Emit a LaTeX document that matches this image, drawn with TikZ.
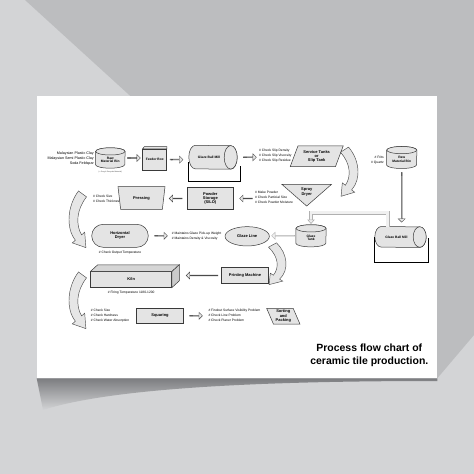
\documentclass[tikz,border=0pt]{standalone}
\usepackage{fontspec}
\setmainfont{Liberation Sans}
\usetikzlibrary{positioning, shapes.geometric, shapes.arrows, shapes.misc, calc, arrows.meta}
\usetikzlibrary{backgrounds}

\definecolor{bglight}{HTML}{D3D4D6}
\definecolor{bgdark}{HTML}{BCBDBF}
\definecolor{shadowc}{HTML}{7C7D80}
\definecolor{boxfill}{HTML}{E4E4E4}
\definecolor{boxline}{HTML}{3A3A3A}
\definecolor{arrowfill}{HTML}{E6E6E6}
\definecolor{arrowline}{HTML}{4A4A4A}
\definecolor{pipeline}{HTML}{B0B0B0}
\definecolor{pipefill}{HTML}{F0F0F0}

% drum lying on its side (node, end radius x, end radius y)
\newcommand\millbody[3]{%
  \draw[shp] ([xshift=#2]#1.north west) arc[start angle=90, end angle=270, x radius=#2, y radius=#3]
    -- ([xshift=-#2]#1.south east) arc[start angle=-90, end angle=90, x radius=#2, y radius=#3] -- cycle;
  \draw[shp] ([xshift=-#2]#1.east) ellipse[x radius=#2, y radius=#3];
}
% standing bin (node, half width, lid radius)
\newcommand\storebin[3]{%
  \draw[shp] ([yshift=-#3]#1.north west) -- ([yshift=#3]#1.south west)
    arc[start angle=180, end angle=360, x radius=#2, y radius=#3]
    -- ([yshift=-#3]#1.north east)
    arc[start angle=0, end angle=180, x radius=#2, y radius=#3] -- cycle;
  \draw[shp] ([yshift=-#3]#1.north) ellipse[x radius=#2, y radius=#3];
}

\tikzset{
  shp/.style={draw=boxline, fill=boxfill, line width=0.5bp},
  lbl/.style={font=\fontsize{4}{4.3}\selectfont\bfseries, align=center},
  slbl/.style={font=\fontsize{3.3}{3.7}\selectfont\bfseries, align=center},
  note/.style={font=\fontsize{3.3}{5}\selectfont, align=left, inner sep=0pt},
  box/.style={shp, lbl, rectangle, inner sep=0pt},
  hold/.style={inner sep=0pt, align=center},
  fat/.style={single arrow, draw=arrowline, fill=arrowfill, line width=0.4bp, inner sep=0pt,
    minimum width=7bp, single arrow head extend=1.5bp, minimum height=#1},
  fat/.default=13bp,
  lite/.style={draw=pipeline, fill=pipefill},
  hatchw/.style={path picture={\foreach \k in {0.9,1.7,2.5}
    \draw[arrowline, line width=0.35bp] ([xshift=\k bp]path picture bounding box.west) ++(0,-2bp) -- ++(0,4bp);}},
  hatche/.style={path picture={\foreach \k in {0.9,1.7,2.5}
    \draw[arrowline, line width=0.35bp] ([xshift=-\k bp]path picture bounding box.east) ++(0,-2bp) -- ++(0,4bp);}},
  hatchn/.style={path picture={\foreach \k in {0.9,1.7,2.5}
    \draw[arrowline, line width=0.35bp] ([yshift=-\k bp]path picture bounding box.north) ++(-2bp,0) -- ++(4bp,0);}},
  frame/.style={draw=black, line width=1.1bp},
  pipe/.style={draw=pipeline, double=pipefill, double distance=2.8bp, line width=0.6bp},
  pipetip/.style={draw=pipeline, line width=0.6bp, -{Triangle[length=4.4bp, width=7.5bp, fill=pipefill]}},
  rib/.style={draw=arrowline, fill=arrowfill, line width=0.45bp},
  ribbon/.pic={
    \draw[rib] (8,-1.5) .. controls (-3,12) and (-5,33) .. (4.9,44.5) -- (1.8,47) -- (15.4,51.4)
      -- (14.2,37) -- (11.1,39.5) .. controls (5,30) and (6,16) .. (16,4) -- cycle;
  }
}

\begin{document}
\begin{tikzpicture}[x=1bp, y=-1bp]
\useasboundingbox (0,0) rectangle (474,474);

        % first row
        \node[note, font=\fontsize{3.7}{5.3}\selectfont, align=right, anchor=east] (clays) at (94,158.5) {Malaysian Plastic Clay\\Malaysian Semi Plastic Clay\\Soda Feldspar};
        \node[hold, minimum width=29.3bp, minimum height=20bp,
              label={[slbl, yshift=-2bp]center:{Raw\\Material Bin}}] (rawbin) at (110.3,158) {};
        \node[inner sep=0pt, font=\fontsize{1.8}{2}\selectfont, text=darkgray] (grog) at (110.3,172.5) {(+ Grog \& Recycled Material)};
        \node[fat, hatchw, right=2bp of rawbin] (a1) {};
        \node[box, slbl, minimum width=24bp, minimum height=20.8bp] (feeder) at (154.7,159.6) {Feeder Box};
        \node[fat, hatchw, right=2.8bp of feeder] (a2) {};
        \node[hold, slbl, minimum width=48bp, minimum height=23.5bp] (mill) at (213,157.3) {Glaze Ball Mill\hspace*{8bp}};
        \node[fat, hatchw, right=6bp of mill] (a3) {};
        \node[note, anchor=west] (slipchk) at (259,155.3) {\# Check Slip Density\\\# Check Slip Viscosity\\\# Check Slip Residue};
        \node[shp, lbl, trapezium, trapezium left angle=66, trapezium right angle=114, trapezium stretches,
              minimum width=53bp, minimum height=20.7bp, inner sep=0pt] (slip) at (316.7,156.3) {Service Tanks\\or\\Slip Tank};
        \node[hold, minimum width=30bp, minimum height=21.6bp,
              label={[slbl, yshift=-2bp]center:{Raw\\Material Bin}}] (rawbin2) at (401.7,157.5) {};
        \node[note, align=right, anchor=east] (frits) at (384,160) {\# Frits\\\# Quartz};
        \node[fat=50bp, hatchn, shape border rotate=270, below=3.5bp of rawbin2] (a4) {};

        % second row
        \node[note, anchor=west] (sizechk) at (93,199.2) {\# Check Size\\\# Check Thickness};
        \node[shp, lbl, trapezium, trapezium angle=74, shape border rotate=180, trapezium stretches,
              minimum width=47bp, minimum height=22.6bp, inner sep=0pt] (press) at (141.5,198) {Pressing};
        \node[box, lbl, minimum width=46bp, minimum height=21.6bp] (silo) at (210.3,198.5) {Powder\\Storage\\(SILO)};
        \node[fat, hatche, shape border rotate=180, left=4.6bp of silo] (a5) {};
        \node[fat, hatche, shape border rotate=180, right=5.7bp of silo] (a6) {};
        \node[note, anchor=west] (powderchk) at (255,197.2) {\# Make Powder\\\# Check Particial Size\\\# Check Powder Moisture};
        \node[shp, lbl, isosceles triangle, shape border rotate=270, isosceles triangle stretches,
              minimum width=49.6bp, minimum height=21.7bp, inner sep=0pt, anchor=apex] (spray) at (306.7,206.7) {Spray\\Dryer};

        % third row
        \node[shp, lbl, rounded rectangle, minimum width=56.6bp, minimum height=23bp, inner sep=0pt] (dryer) at (120,235.8) {Horizontal\\Dryer};
        \node[note] (tempchk) at (120,252.5) {\# Check Output Temperature};
        \node[fat, hatchw, right=5.7bp of dryer] (a7) {};
        \node[note, anchor=west] (glazechk) at (171.7,236.2) {\# Maintains Glaze Pick-up Weight\\\# Maintains Density \& Viscosity};
        \node[shp, lbl, ellipse, minimum width=44.3bp, minimum height=19.3bp, inner sep=0pt] (gline) at (247.2,236.3) {Glaze Line};
        \node[hold, minimum width=30bp, minimum height=21.7bp,
              label={[slbl, yshift=-2bp]center:{Glaze\\Tank}}] (gtank) at (311,235.8) {};
        \node[fat=23bp, lite, shape border rotate=180, left=1bp of gtank] (a8) {};
        \node[hold, slbl, minimum width=51bp, minimum height=20.6bp] (mill2) at (400.5,237) {Glaze Ball Mill\hspace*{8bp}};

        % fourth row
        \node[box, lbl, minimum width=81bp, minimum height=15.6bp] (kiln) at (131.2,279.5) {Kiln};
        \node[note] (firechk) at (131.2,292.3) {\# Firing Temperature 1180-1200};
        \node[box, lbl, minimum width=46.6bp, minimum height=15.6bp] (printer) at (245,275.5) {Printing Machine};
        \node[fat=31.6bp, hatche, shape border rotate=180, left=3.4bp of printer] (a9) {};

        % fifth row
        \node[note, anchor=west] (waterchk) at (90.7,315.9) {\# Check Size\\\# Check Hardness\\\# Check Water Absorption};
        \node[box, lbl, minimum width=46.6bp, minimum height=15bp] (square) at (160,315.8) {Squaring};
        \node[fat, hatchw, right=5.7bp of square] (a10) {};
        \node[note, anchor=west] (surfchk) at (208.3,315.7) {\# Findout Surface Visibility Problem\\\# Check Line Problem\\\# Check Planer Problem};
        \node[shp, lbl, trapezium, trapezium left angle=113, trapezium right angle=67, trapezium stretches,
              minimum width=33.3bp, minimum height=15.7bp, inner sep=0pt] (pack) at (283.3,316.2) {Sorting\\and\\Packing};

        % title
        \node[font=\fontsize{10.5}{12.7}\selectfont\bfseries, align=center] (title) at (369.3,355.3) {Process flow chart of\\ceramic tile production.};

        % box details
        \draw[shp] (feeder.north west) -- ++(2bp,2.4bp) -- ([yshift=2.4bp]feeder.north east) -- (feeder.north east) -- cycle;
        \draw[shp, fill=boxfill!85!gray] (kiln.north west) -- ++(7.3bp,6.7bp) -- ([xshift=7.3bp,yshift=6.7bp]kiln.north east) -- (kiln.north east) -- cycle;
        \draw[shp, fill=boxfill!75!gray] (kiln.north east) -- ++(7.3bp,6.7bp) -- ([xshift=7.3bp,yshift=6.7bp]kiln.south east) -- (kiln.south east) -- cycle;

        % mill stands
        \draw[frame] ([yshift=-5bp]mill.west) |- ([xshift=3.3bp,yshift=-12.5bp]mill.south east) -- ++(0,15.5bp);
        \draw[frame] (mill2.west) |- ([xshift=2.3bp,yshift=-15bp]mill2.south east) -- ++(0,24bp);

        % glaze feed pipe
        \draw[pipe] ([xshift=13bp]mill2.north west) |- ($(gtank.north)+(0,12bp)$) -- ($(gtank.north)+(0,5bp)$);
        \draw[pipetip] ($(gtank.north)+(0,5.2bp)$) -- ($(gtank.north)+(0,0.8bp)$);

        % curled arrows between rows
        \coordinate (rib1) at (356.5,148.5);
        \coordinate (rib2) at (70.5,192.6);
        \coordinate (rib3) at (284.5,244);
        \coordinate (rib4) at (70.5,273.6);
        \pic[xscale=-1, yscale=0.93] at (rib1) {ribbon};
        \pic[yscale=1.07] at (rib2) {ribbon};
        \pic[xscale=-1, yscale=0.79] at (rib3) {ribbon};
        \pic[yscale=1.07] at (rib4) {ribbon};

        \begin{scope}[on background layer]
            \fill[bglight] (0,0) rectangle (474,474);
            \fill[bgdark] (25,0) -- (474,0) -- (474,335) -- (437.3,378.3) -- (130,95.7) -- cycle;
            \shade[top color=shadowc, bottom color=bglight] (36.7,378.3) -- (437.3,378.3) -- (437.3,381)
                .. controls (300,381) and (120,385) .. (43,410) -- cycle;
            \fill[white] (36.7,95.7) rectangle (437.3,378.3);
            \storebin{rawbin}{14.65bp}{3.6bp}
            \storebin{rawbin2}{15bp}{3.6bp}
            \storebin{gtank}{15bp}{3.6bp}
            \millbody{mill}{6.5bp}{11.75bp}
            \millbody{mill2}{6.5bp}{10.3bp}
        \end{scope}

\end{tikzpicture}
\end{document}
